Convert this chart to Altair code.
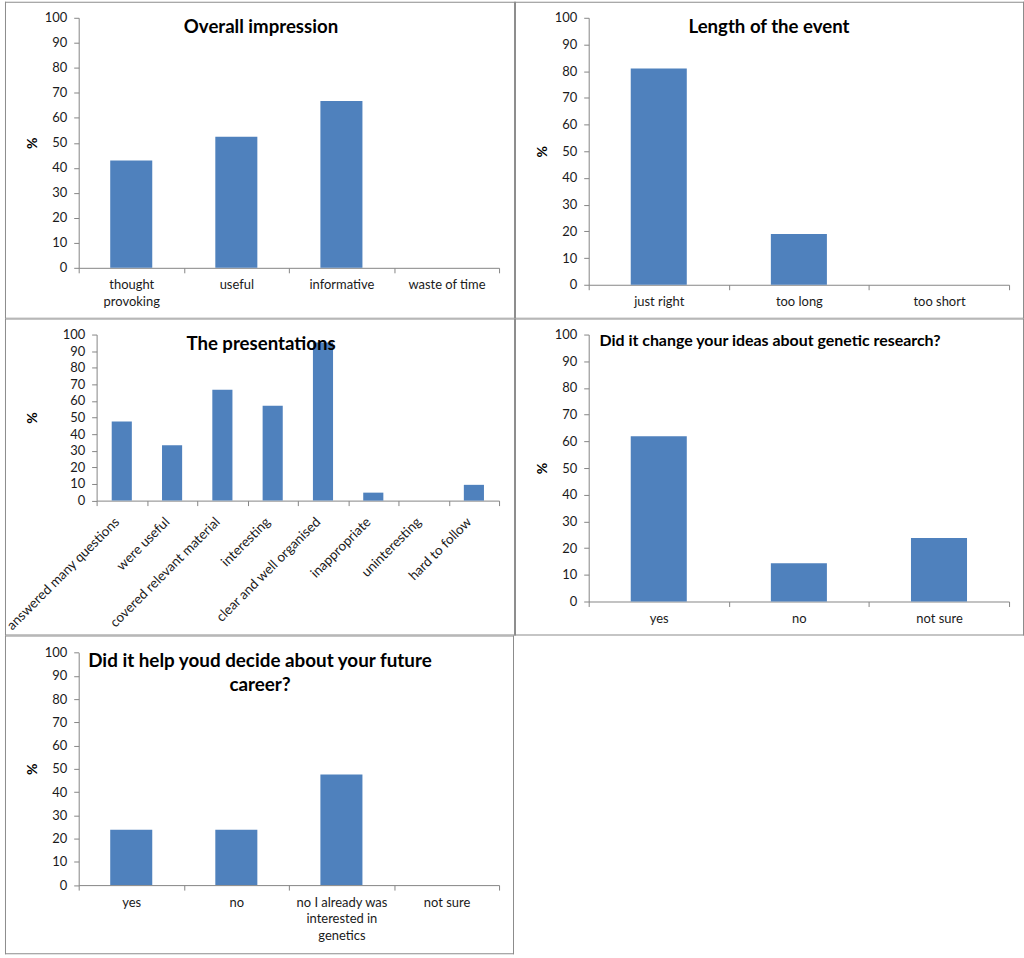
import json

import altair as alt
import pandas as pd

BAR_BLUE = "#4F81BD"
AXIS_GRAY = "#868686"
BORDER_GRAY = "#8C8C8C"
FONT = "Lato"

# Survey answers, percentage of respondents
impression_cats = ["thought provoking", "useful", "informative", "waste of time"]
impression_pct = [42.9, 52.4, 66.7, 0.0]

length_cats = ["just right", "too long", "too short"]
length_pct = [81.0, 19.0, 0.0]

presentation_cats = [
    "answered many questions",
    "were useful",
    "covered relevant material",
    "interesting",
    "clear and well organised",
    "inappropriate",
    "uninteresting",
    "hard to follow",
]
presentation_pct = [47.6, 33.3, 66.7, 57.1, 95.2, 4.8, 0.0, 9.5]

ideas_cats = ["yes", "no", "not sure"]
ideas_pct = [61.9, 14.3, 23.8]

career_cats = ["yes", "no", "no I already was interested in genetics", "not sure"]
career_pct = [23.8, 23.8, 47.6, 0.0]

# Long category names are broken over several lines under the axis
wrapped_labels = {
    "thought provoking": ["thought", "provoking"],
    "no I already was interested in genetics": ["no I already was", "interested in", "genetics"],
}
label_expr = f"{json.dumps(wrapped_labels)}[datum.label] || datum.label"


def frame_edges(w, h):
    """Four 1px filled strips that outline the panel (no stroke, so the
    panel's extent stays exactly w x h)."""
    one = pd.DataFrame({"edge": [0]})
    edges = [(0, w, 0, 1), (0, w, h - 1, h), (0, 1, 0, h), (w - 1, w, 0, h)]
    return [
        alt.Chart(one).mark_rect(color=BORDER_GRAY).encode(
            x=alt.value(a), x2=alt.value(b), y=alt.value(c), y2=alt.value(d)
        )
        for a, b, c, d in edges
    ]


def panel(cats, values, title_lines, *, w, h, x0, x1, y0, y1,
          title_x=256, title_size=18.7, rotate=False):
    """One survey question: bars inside a bordered box of w x h pixels."""
    df = pd.DataFrame({"answer": cats, "pct": values})

    if rotate:
        x_axis = alt.Axis(
            offset=y1 - h, tickBand="extent", tickSize=5, labelAngle=-45,
            labelAlign="right", labelBaseline="middle", labelPadding=14,
            labelOffset=-5, labelFontSize=13.5, labelLimit=0, title=None,
        )
    else:
        x_axis = alt.Axis(
            offset=y1 - h, tickBand="extent", tickSize=5, labelAngle=0,
            labelAlign="center", labelBaseline="top", labelPadding=6,
            labelExpr=label_expr, labelLineHeight=17, labelLimit=0, title=None,
        )

    y_axis = alt.Axis(
        offset=-x0, values=list(range(0, 101, 10)), tickSize=5, labelPadding=7,
        title="%", titleFontWeight="bold", titleFontSize=14, titleAngle=-90,
        titleX=28 - x0, titleY=(y0 + y1) / 2, titleBaseline="middle",
    )

    bars = alt.Chart(df).mark_bar(
        color=BAR_BLUE, width=alt.RelativeBandSize(0.4)
    ).encode(
        x=alt.X("answer:N", sort=cats, axis=x_axis,
                scale=alt.Scale(range=[x0, x1], paddingInner=0, paddingOuter=0)),
        y=alt.Y("pct:Q", axis=y_axis,
                scale=alt.Scale(domain=[0, 100], range=[y1, y0], nice=False)),
    )

    layers = [bars] + frame_edges(w, h)
    for text, ty in title_lines:
        layers.append(
            alt.Chart(pd.DataFrame({"title": [text]})).mark_text(
                font=FONT, fontSize=title_size, fontWeight="bold", color="#000000",
                align="center", baseline="middle",
            ).encode(x=alt.value(title_x), y=alt.value(ty), text="title:N")
        )
    return alt.layer(*layers).properties(width=w, height=h)


p1 = panel(impression_cats, impression_pct, [("Overall impression", 25)],
           w=512, h=318, x0=74, x1=496, y0=16, y1=267, title_x=257)
p2 = panel(length_cats, length_pct, [("Length of the event", 25)],
           w=511, h=318, x0=74, x1=496, y0=16, y1=284, title_x=255)
p3 = panel(presentation_cats, presentation_pct, [("The presentations", 25)],
           w=512, h=318, x0=92, x1=496, y0=16, y1=182.7, title_x=257, rotate=True)
p4 = panel(ideas_cats, ideas_pct, [("Did it change your ideas about genetic research?", 22)],
           w=511, h=318, x0=74, x1=496, y0=16, y1=284, title_x=256, title_size=16)
p5 = panel(career_cats, career_pct,
           [("Did it help youd decide about your future", 26), ("career?", 50)],
           w=511, h=320, x0=74, x1=496, y0=17.3, y1=250.7, title_x=256, title_size=18.9)

chart = alt.vconcat(
    alt.hconcat(p1, p2, spacing=0),
    alt.hconcat(p3, p4, spacing=0),
    p5,
    spacing=0,
).properties(
    padding=0, background="white"
).configure_view(
    strokeWidth=0, fill="white"
).configure_axis(
    grid=False, domainColor=AXIS_GRAY, tickColor=AXIS_GRAY,
    labelFont=FONT, labelFontSize=13, labelColor="#1a1a1a",
    titleFont=FONT, titleColor="#000000",
)

chart.save("out.html", embed_options={"renderer": "svg", "actions": False})
